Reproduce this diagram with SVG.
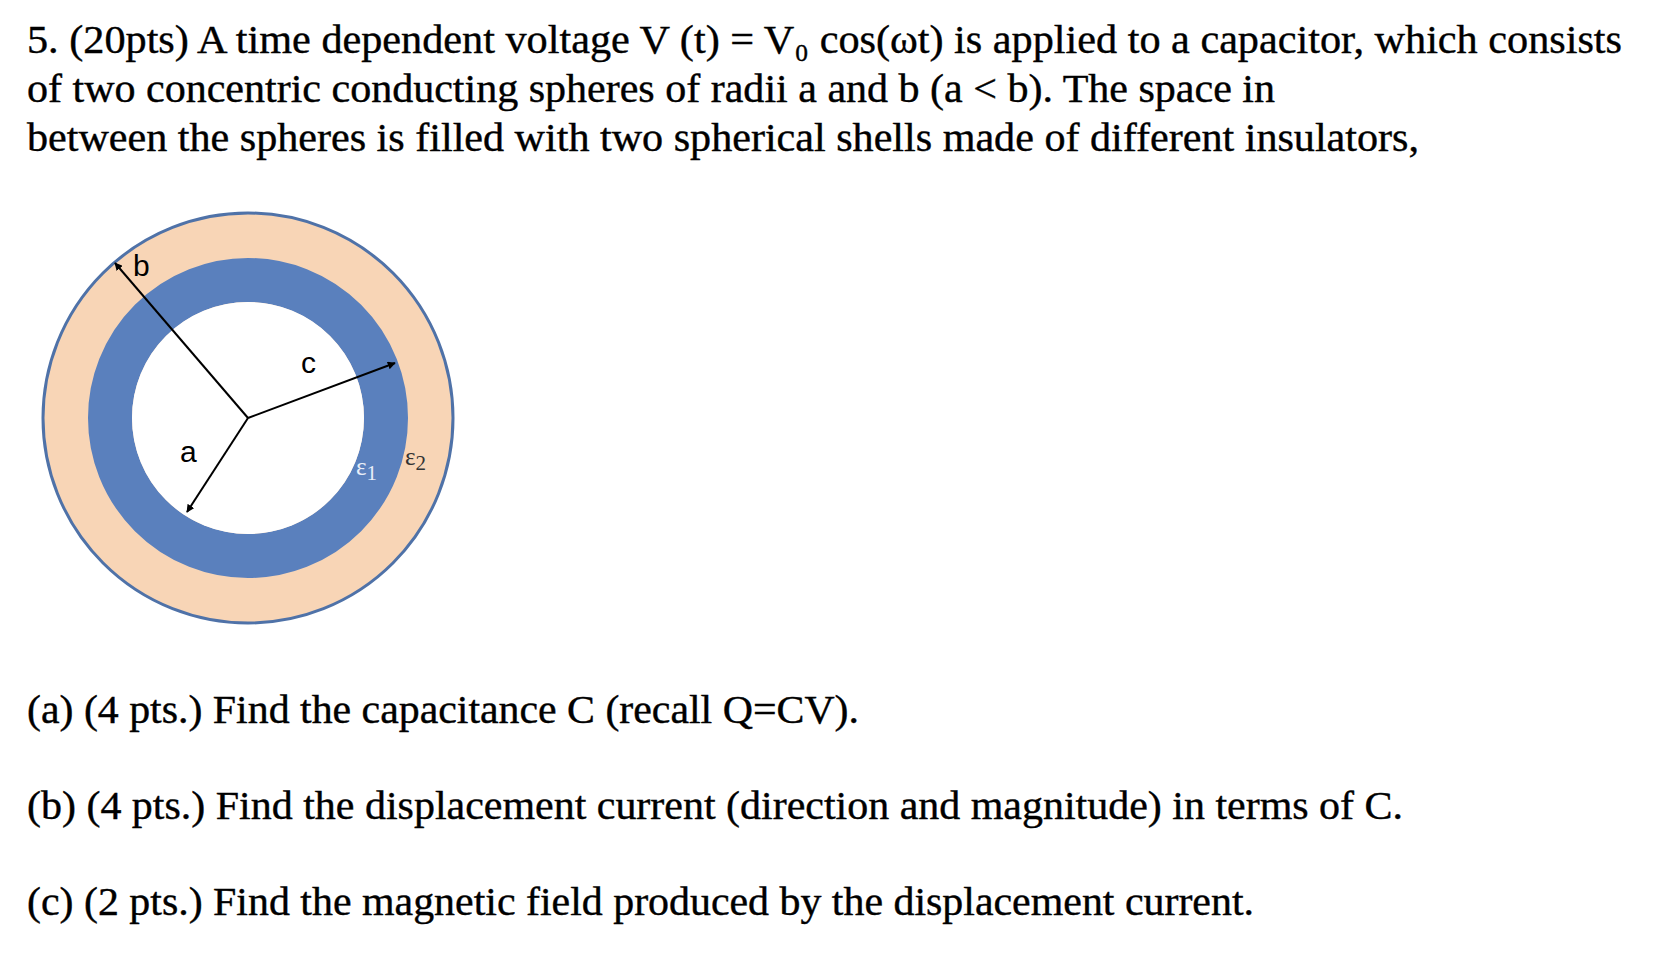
<svg xmlns="http://www.w3.org/2000/svg" width="1664" height="964" viewBox="0 0 1664 964">
<style>
.t{font-family:"Liberation Serif",serif;font-size:40px;fill:#000;stroke:#000;stroke-width:0.4}
.s{font-family:"Liberation Sans",sans-serif;font-size:30px;fill:#000}
.ln{stroke:#000;stroke-width:2;fill:none}
</style>
<defs><marker id="ar" viewBox="0 0 10 10" refX="9" refY="5" markerWidth="8" markerHeight="8" orient="auto" markerUnits="userSpaceOnUse"><path d="M0,0L10,5L0,10z" fill="#000"/></marker></defs>
<rect width="1664" height="964" fill="#fff"/>
<text class="t" x="27" y="53" textLength="1595" lengthAdjust="spacingAndGlyphs">5. (20pts) A time dependent voltage V (t) = V₀ cos(ωt) is applied to a capacitor, which consists</text>
<text class="t" x="27" y="102" textLength="1248" lengthAdjust="spacingAndGlyphs">of two concentric conducting spheres of radii a and b (a &lt; b). The space in</text>
<text class="t" x="27" y="151" textLength="1392" lengthAdjust="spacingAndGlyphs">between the spheres is filled with two spherical shells made of different insulators,</text>
<g id="spheres">
<circle cx="248" cy="418" r="205" fill="#f8d5b6" stroke="#4f72a8" stroke-width="3"/>
<circle cx="248" cy="418" r="138" fill="none" stroke="#5a80bd" stroke-width="44"/>
<circle cx="248" cy="418" r="116" fill="#fff"/>
</g>
<g id="connectors">
<line class="ln" x1="248" y1="418" x2="115" y2="263" marker-end="url(#ar)"/>
<line class="ln" x1="248" y1="418" x2="395" y2="363" marker-end="url(#ar)"/>
<line class="ln" x1="248" y1="418" x2="187" y2="512" marker-end="url(#ar)"/>
</g>
<g id="labels">
<text class="s" x="133" y="276">b</text>
<text class="s" x="301" y="373">c</text>
<text class="s" x="180" y="462">a</text>
<text x="356" y="475" style="font-family:'Liberation Serif',serif;font-size:25px;fill:#e8eef8">ε<tspan font-size="21" dy="5">1</tspan></text>
<text x="405" y="465" style="font-family:'Liberation Serif',serif;font-size:25px;fill:#333">ε<tspan font-size="21" dy="5">2</tspan></text>
</g>
<text class="t" x="27" y="723" textLength="832" lengthAdjust="spacingAndGlyphs">(a) (4 pts.) Find the capacitance C (recall Q=CV).</text>
<text class="t" x="27" y="819" textLength="1376" lengthAdjust="spacingAndGlyphs">(b) (4 pts.) Find the displacement current (direction and magnitude) in terms of C.</text>
<text class="t" x="27" y="915" textLength="1227" lengthAdjust="spacingAndGlyphs">(c) (2 pts.) Find the magnetic field produced by the displacement current.</text>
</svg>
